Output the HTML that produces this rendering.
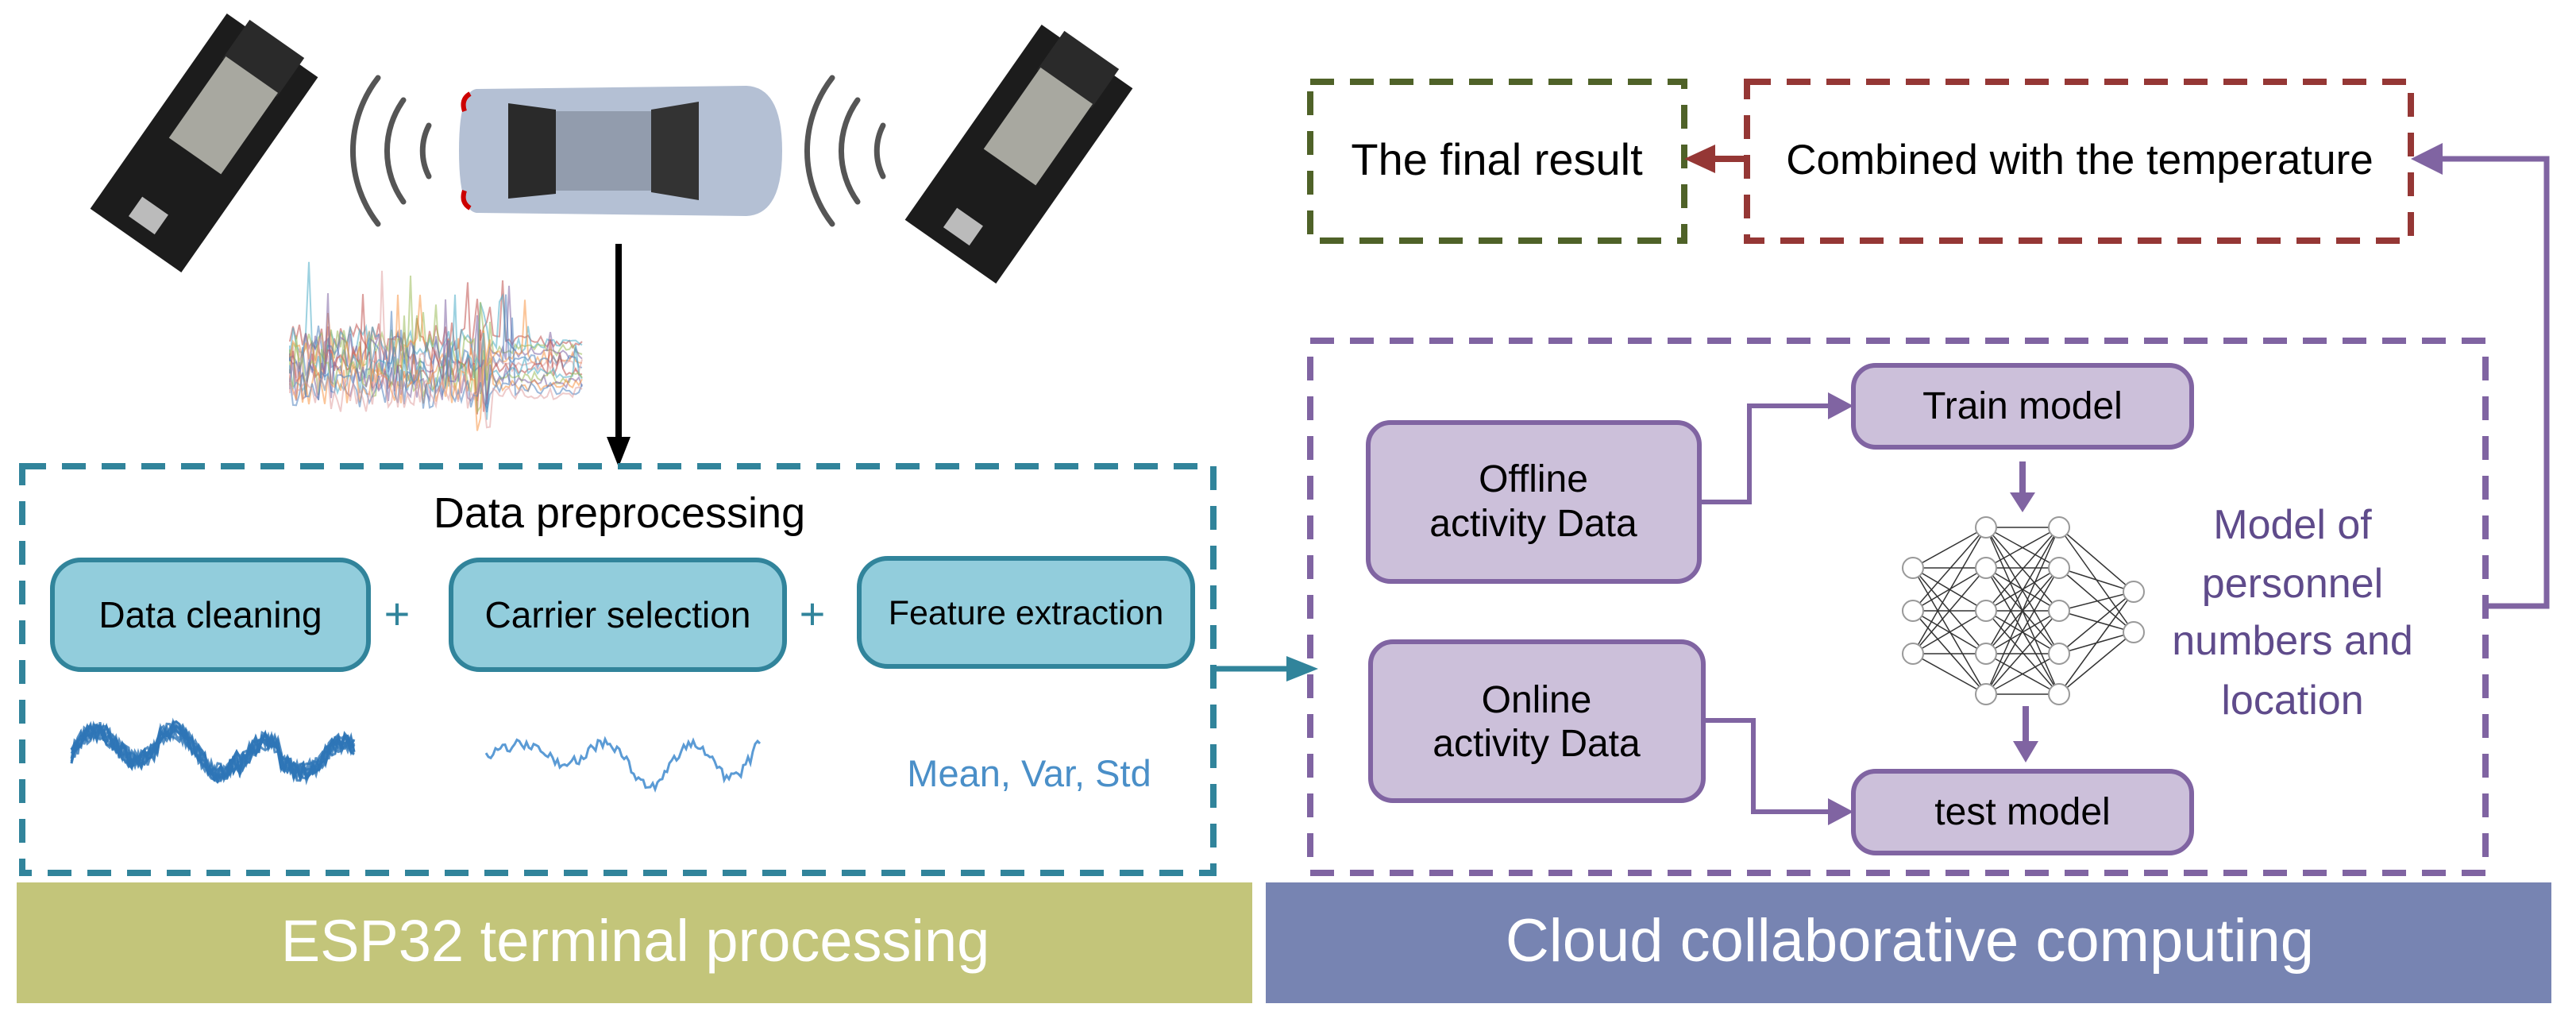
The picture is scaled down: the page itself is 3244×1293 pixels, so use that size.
<!DOCTYPE html>
<html><head><meta charset="utf-8"><style>
html,body{margin:0;padding:0;background:#fff;width:3244px;height:1293px;overflow:hidden}
svg{display:block}
text{font-family:"Liberation Sans",sans-serif}
</style></head><body>
<svg id="s" width="3244" height="1293" viewBox="0 0 3244 1293" xmlns="http://www.w3.org/2000/svg">
<!-- bottom bars -->
<rect x="21" y="1111" width="1556" height="152" fill="#c3c57a"/>
<text x="800" y="1210" font-size="74" fill="#fff" text-anchor="middle">ESP32 terminal processing</text>
<rect x="1594" y="1111" width="1619" height="152" fill="#7784b2"/>
<text x="2405" y="1210" font-size="76" fill="#fff" text-anchor="middle">Cloud collaborative computing</text>

<!-- ESP boards -->
<g transform="translate(257,180) rotate(35)">
<rect x="-70" y="-150" width="140" height="300" fill="#1c1c1c"/>
<rect x="-42" y="-160" width="84" height="60" fill="#2a2a2a"/>
<rect x="-40" y="-105" width="80" height="125" fill="#a8a8a0"/>
<rect x="-25" y="100" width="40" height="30" fill="#bbb"/>
</g>
<g transform="translate(1283,194) rotate(35)">
<rect x="-70" y="-150" width="140" height="300" fill="#1c1c1c"/>
<rect x="-42" y="-160" width="84" height="60" fill="#2a2a2a"/>
<rect x="-40" y="-105" width="80" height="125" fill="#a8a8a0"/>
<rect x="-25" y="100" width="40" height="30" fill="#bbb"/>
</g>
<!-- wifi arcs -->
<g fill="none" stroke="#555" stroke-width="7" stroke-linecap="round">
<path d="M540,158 A70,70 0 0 0 540,222"/>
<path d="M508,126 A110,110 0 0 0 508,254"/>
<path d="M476,98 A150,150 0 0 0 476,282"/>
<path d="M1112,158 A70,70 0 0 0 1112,222"/>
<path d="M1080,126 A110,110 0 0 0 1080,254"/>
<path d="M1048,98 A150,150 0 0 0 1048,282"/>
</g>
<!-- car -->
<g>
<path d="M600,112 L940,108 Q985,110 985,190 Q985,270 940,272 L600,268 Q578,265 578,190 Q578,115 600,112 Z" fill="#b4c0d4"/>
<path d="M640,130 L700,138 L700,244 L640,250 Z" fill="#2a2a2a"/>
<rect x="700" y="140" width="120" height="100" fill="#929cad"/>
<path d="M820,138 L880,128 L880,252 L820,242 Z" fill="#333"/>
<path d="M585,140 Q580,125 592,118" stroke="#c00" stroke-width="6" fill="none"/>
<path d="M585,240 Q580,255 592,262" stroke="#c00" stroke-width="6" fill="none"/>
</g>
<!-- csi plot -->
<g id="csi"></g>
<!-- black arrow -->
<line x1="779" y1="307" x2="779" y2="560" stroke="#000" stroke-width="8"/>
<path d="M764,550 L779,588 L794,550 Z" fill="#000"/>

<!-- teal box -->
<rect x="28" y="587" width="1500" height="512" fill="none" stroke="#31849b" stroke-width="8" stroke-dasharray="30,20"/>
<text x="780" y="664" font-size="54" text-anchor="middle" fill="#000">Data preprocessing</text>
<g fill="#92cddc" stroke="#31849b" stroke-width="6">
<rect x="66" y="705" width="398" height="138" rx="36"/>
<rect x="568" y="705" width="420" height="138" rx="36"/>
<rect x="1082" y="703" width="420" height="136" rx="36"/>
</g>
<g font-size="46" text-anchor="middle" fill="#000">
<text x="265" y="790">Data cleaning</text>
<text x="778" y="790">Carrier selection</text>
<text x="1292" y="786" font-size="43">Feature extraction</text>
</g>
<g font-size="56" fill="#31849b" text-anchor="middle"><text x="500" y="792">+</text><text x="1023" y="792">+</text></g>
<g id="w1"></g><g id="w2"></g>
<text x="1296" y="990" font-size="47" fill="#4a8fc8" text-anchor="middle">Mean, Var, Std</text>
<!-- teal arrow -->
<line x1="1528" y1="842" x2="1630" y2="842" stroke="#31849b" stroke-width="7"/>
<path d="M1620,826 L1660,842 L1620,858 Z" fill="#31849b"/>

<!-- top right boxes -->
<rect x="1650" y="103" width="471" height="200" fill="none" stroke="#4f6228" stroke-width="8" stroke-dasharray="30,20"/>
<text x="1885" y="220" font-size="56" text-anchor="middle" fill="#000">The final result</text>
<rect x="2200" y="103" width="836" height="200" fill="none" stroke="#953735" stroke-width="8" stroke-dasharray="30,20"/>
<text x="2619" y="219" font-size="53" text-anchor="middle" fill="#000">Combined with the temperature</text>
<line x1="2200" y1="200" x2="2150" y2="200" stroke="#953735" stroke-width="8"/>
<path d="M2160,182 L2121,200 L2160,218 Z" fill="#953735"/>

<!-- purple feedback -->
<polyline points="3130,763 3207,763 3207,200 3070,200" fill="none" stroke="#8064a2" stroke-width="7"/>
<path d="M3076,180 L3036,200 L3076,220 Z" fill="#8064a2"/>

<!-- purple box -->
<rect x="1650" y="429" width="1480" height="670" fill="none" stroke="#8064a2" stroke-width="8" stroke-dasharray="30,20"/>
<g fill="#ccc0da" stroke="#8064a2" stroke-width="6">
<rect x="1723" y="532" width="417" height="200" rx="28"/>
<rect x="1726" y="808" width="419" height="200" rx="28"/>
<rect x="2334" y="460" width="426" height="103" rx="28"/>
<rect x="2334" y="971" width="426" height="103" rx="28"/>
</g>
<g font-size="48" text-anchor="middle" fill="#000">
<text x="1931" y="619">Offline</text><text x="1931" y="675">activity Data</text>
<text x="1935" y="897">Online</text><text x="1935" y="952">activity Data</text>
<text x="2547" y="527">Train model</text>
<text x="2547" y="1038">test model</text>
</g>
<g fill="none" stroke="#8064a2" stroke-width="6">
<polyline points="2140,632 2203,632 2203,511 2310,511"/>
<polyline points="2145,907 2208,907 2208,1022 2310,1022"/>
<line x1="2547" y1="581" x2="2547" y2="625" stroke-width="8"/>
<line x1="2551" y1="889" x2="2551" y2="938" stroke-width="8"/>
</g>
<g fill="#8064a2">
<path d="M2302,494 L2334,511 L2302,528 Z"/>
<path d="M2302,1005 L2334,1022 L2302,1039 Z"/>
<path d="M2531,620 L2547,645 L2563,620 Z"/>
<path d="M2535,933 L2551,960 L2567,933 Z"/>
</g>
<g id="nn"></g>
<g font-size="52" text-anchor="middle" fill="#5f4b8b">
<text x="2887" y="678">Model of</text>
<text x="2887" y="752">personnel</text>
<text x="2887" y="824">numbers and</text>
<text x="2887" y="899">location</text>
</g>
</svg>
<script>
var NS="http://www.w3.org/2000/svg";
function el(p,t,a){var e=document.createElementNS(NS,t);for(var k in a)e.setAttribute(k,a[k]);p.appendChild(e);return e;}
var seed=7;function r(){seed=(seed*9301+49297)%233280;return seed/233280;}
var nn=document.getElementById('nn');
var L=[[2409,[715,769,823]],[2501,[664,715,769,823,874]],[2593,[664,715,769,823,874]],[2687,[745,796]]];
for(var i=0;i<3;i++)for(var a of L[i][1])for(var b of L[i+1][1])el(nn,'line',{x1:L[i][0],y1:a,x2:L[i+1][0],y2:b,stroke:'#333','stroke-width':1.5});
for(var l of L)for(var y of l[1])el(nn,'circle',{cx:l[0],cy:y,r:13,fill:'#fff',stroke:'#999','stroke-width':2});
var c=document.getElementById('csi');
var cols=['#c0504d','#4bacc6','#9bbb59','#8064a2','#f79646','#4f81bd','#e0a0a0'];
for(var k=0;k<14;k++){var d='M365,'+(430+k*5);for(var x=365;x<=735;x+=4){var amp=(x>600&&x<620)?60:(x<600?25:8);var y=430+k*5+(r()-0.5)*amp*2;if(r()<0.03)y-=100*r();d+=' L'+x+','+y.toFixed(1);}el(c,'path',{d:d,stroke:cols[k%7],'stroke-width':2,fill:'none',opacity:0.55});}
var w1=document.getElementById('w1');
for(var k=0;k<10;k++){var d='';for(var x=90;x<=449;x+=4){var base=950-15*Math.sin((x-90)/40)-20*Math.sin((x-90)/17)+(x>350?15:0)+(x>200&&x<300?-12:0);var y=base+(r()-0.5)*24;d+=(d?' L':'M')+x+','+y.toFixed(1);}el(w1,'path',{d:d,stroke:'#2e75b6','stroke-width':3,fill:'none',opacity:0.8});}
var w2=document.getElementById('w2');var d='';
for(var x=612;x<=959;x+=3){var y=955-18*Math.sin((x-612)/18)+22*Math.sin((x-612)/45)*Math.cos((x-612)/23)+(r()-0.5)*14;d+=(d?' L':'M')+x+','+y.toFixed(1);}
el(w2,'path',{d:d,stroke:'#5b9bd5','stroke-width':3,fill:'none'});
</script>
</body></html>
